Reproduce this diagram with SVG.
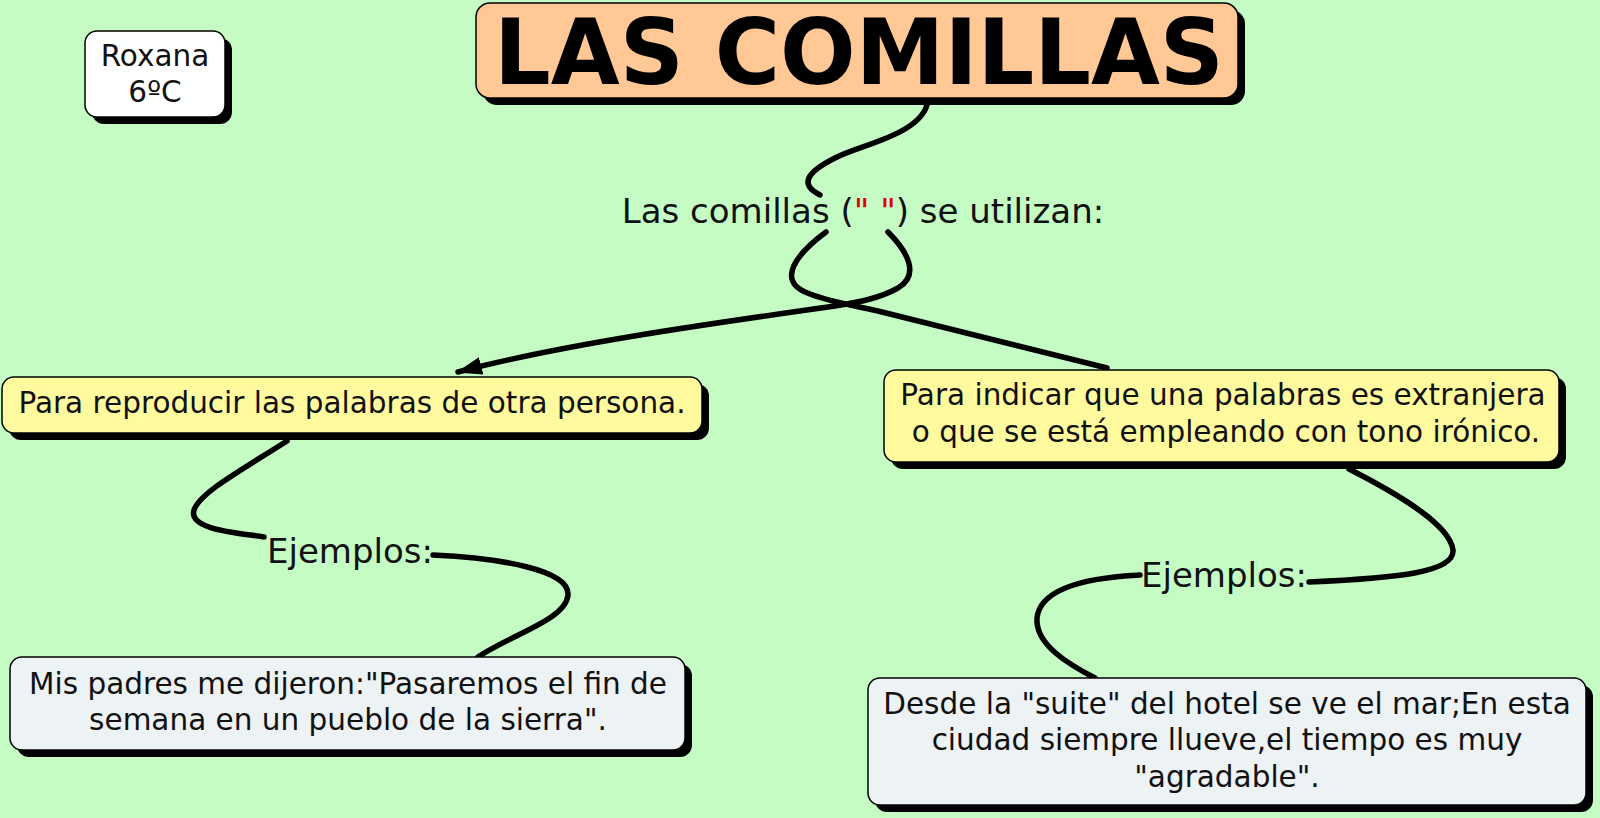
<svg xmlns="http://www.w3.org/2000/svg" width="1600" height="818" viewBox="0 0 1600 818">
<defs>
<style>
.bg{fill:#C4FCC4}
.sh{fill:#000}
.box{stroke:#000;stroke-width:1.5}
.title{fill:#FFC894}
.yel{fill:#FFFA9E}
.gry{fill:#EDF2F5}
.wht{fill:#FFFFFF}
.t{font-family:"DejaVu Sans","Verdana",sans-serif;fill:#111;font-size:29.5px;text-anchor:middle}
.lbl{font-family:"DejaVu Sans","Verdana",sans-serif;fill:#111;font-size:34px}
.conn{fill:none;stroke:#000;stroke-width:5.5;stroke-linecap:round}
</style>
<marker id="arr" viewBox="0 0 26 18" refX="24" refY="9" markerWidth="26" markerHeight="18" markerUnits="userSpaceOnUse" orient="auto">
<path d="M0,0 L26,9 L0,18 z" fill="#000"/>
</marker>
</defs>
<rect class="bg" x="0" y="0" width="1600" height="818"/>

<g id="connectors">
<path class="conn" d="M927,105 C918,135 860,145 835,158 C805,173 800,185 820,195"/>
<path class="conn" d="M826,232 C795,255 778,280 805,292 C830,303 860,306 890,314 L1107,368"/>
<path class="conn" d="M888,232 C908,252 920,275 898,288 C880,298 860,302 835,306 C700,325 560,345 458,372" marker-end="url(#arr)"/>
<path class="conn" d="M287,441 C245,468 200,492 194,510 C188,530 240,533 264,537"/>
<path class="conn" d="M433,555 C500,558 570,570 568,595 C566,620 510,635 478,657"/>
<path class="conn" d="M1349,469 C1400,495 1450,525 1453,550 C1455,572 1400,578 1309,582"/>
<path class="conn" d="M1140,575 C1080,578 1040,590 1037,618 C1035,645 1070,665 1095,678"/>
</g>

<g id="node-title">
<rect class="sh" x="483" y="10" width="762" height="95" rx="14"/>
<rect class="box title" x="476" y="3" width="762" height="95" rx="14"/>
<text x="859" y="84" font-family="'DejaVu Sans','Verdana',sans-serif" font-weight="bold" font-size="90" text-anchor="middle" textLength="730" lengthAdjust="spacingAndGlyphs" fill="#000">LAS COMILLAS</text>
</g>

<g id="node-roxana">
<rect class="sh" x="92" y="38" width="140" height="86" rx="12"/>
<rect class="box wht" x="85" y="31" width="140" height="86" rx="12"/>
<text class="t" x="155" y="66" font-size="28.5">Roxana</text>
<text class="t" x="155" y="102" font-size="28.5">6ºC</text>
</g>

<g id="node-label-uso">
<text class="lbl" x="863" y="223" text-anchor="middle">Las comillas (<tspan fill="#E00000">"</tspan> <tspan fill="#E00000">"</tspan>) se utilizan:</text>
</g>

<g id="node-reproducir">
<rect class="sh" x="9" y="384" width="700" height="56" rx="12"/>
<rect class="box yel" x="2" y="377" width="700" height="56" rx="12"/>
<text class="t" x="352" y="413">Para reproducir las palabras de otra persona.</text>
</g>

<g id="node-extranjera">
<rect class="sh" x="891" y="377" width="675" height="92" rx="12"/>
<rect class="box yel" x="884" y="370" width="675" height="92" rx="12"/>
<text class="t" x="1223" y="405">Para indicar que una palabras es extranjera</text>
<text class="t" x="1226" y="442">o que se está empleando con tono irónico.</text>
</g>

<g id="node-ejemplos-1">
<text class="lbl" x="267" y="563">Ejemplos:</text>
</g>

<g id="node-ejemplos-2">
<text class="lbl" x="1141" y="587">Ejemplos:</text>
</g>

<g id="node-ejemplo-padres">
<rect class="sh" x="17" y="664" width="675" height="93" rx="12"/>
<rect class="box gry" x="10" y="657" width="675" height="93" rx="12"/>
<text class="t" x="348" y="694">Mis padres me dijeron:"Pasaremos el fin de</text>
<text class="t" x="348" y="730">semana en un pueblo de la sierra".</text>
</g>

<g id="node-ejemplo-suite">
<rect class="sh" x="875" y="685" width="718" height="127" rx="12"/>
<rect class="box gry" x="868" y="678" width="718" height="127" rx="12"/>
<text class="t" x="1227" y="714">Desde la "suite" del hotel se ve el mar;En esta</text>
<text class="t" x="1227" y="750">ciudad siempre llueve,el tiempo es muy</text>
<text class="t" x="1227" y="787">"agradable".</text>
</g>
</svg>
